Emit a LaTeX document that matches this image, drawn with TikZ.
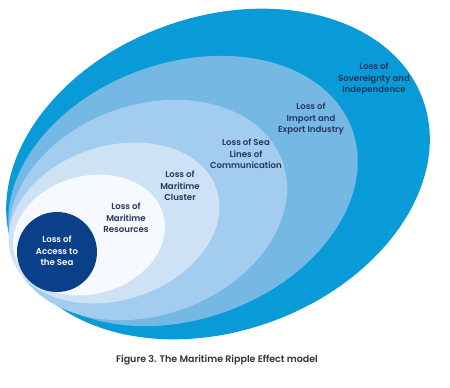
\documentclass[tikz,border=0pt]{standalone}
\usepackage{fontspec}
\setmainfont{Poppins}[BoldFont={Poppins SemiBold}]
\definecolor{c6}{RGB}{8,155,215}
\definecolor{c5}{RGB}{118,184,228}
\definecolor{c4}{RGB}{162,205,238}
\definecolor{c3}{RGB}{206,226,246}
\definecolor{c2}{RGB}{246,249,253}
\definecolor{c1}{RGB}{10,64,138}
\definecolor{txt}{RGB}{35,55,95}
\definecolor{cap}{RGB}{50,50,60}
\begin{document}
\begin{tikzpicture}[x=1pt,y=1pt,
  lbl/.style={align=center,font=\fontsize{8.6}{11.5}\selectfont\bfseries,text=txt,inner sep=0pt}]
\useasboundingbox (0,0) rectangle (450,-388);
\fill[c6, shift={(218,-174)}, rotate=20] (0,0) ellipse [x radius=218, y radius=157];
\fill[c5, shift={(183,-191)}, rotate=20] (0,0) ellipse [x radius=180, y radius=128];
\fill[c4, shift={(148,-210)}, rotate=20] (0,0) ellipse [x radius=143, y radius=105];
\fill[c3, shift={(114,-223)}, rotate=18] (0,0) ellipse [x radius=108, y radius=77];
\fill[c2, shift={(89,-235)}, rotate=15] (0,0) ellipse [x radius=77, y radius=59];
\fill[c1] (57,-252) circle [radius=40];
\node[lbl,text=white] (n1) at (57,-251) {Loss of\\Access to\\the Sea};
\node[lbl] (n2) at (126,-218) {Loss of\\Maritime\\Resources};
\node[lbl] (n3) at (180,-186) {Loss of\\Maritime\\Cluster};
\node[lbl] (n4) at (246,-154) {Loss of Sea\\Lines of\\Communication};
\node[lbl] (n5) at (311,-119) {Loss of\\Import and\\Export Industry};
\node[lbl] (n6) at (374,-79) {Loss of\\Sovereignty and\\Independence};
\node[font=\fontsize{9.5}{11}\selectfont\bfseries,text=cap,inner sep=0pt] (cap) at (217,-360) {Figure 3. The Maritime Ripple Effect model};
\end{tikzpicture}
\end{document}
